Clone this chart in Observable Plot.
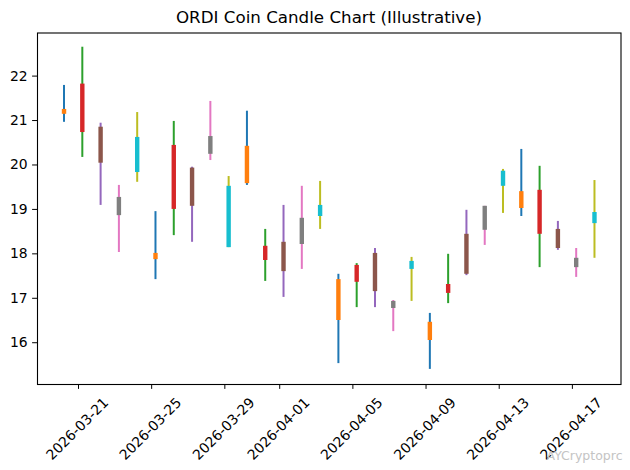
<!DOCTYPE html>
<html>
<head>
<meta charset="utf-8">
<script src="https://cdn.jsdelivr.net/npm/d3@7"></script>
<script src="https://cdn.jsdelivr.net/npm/@observablehq/plot@0.6"></script>
<style>
  html, body { margin: 0; padding: 0; background: #fff; }
  #wrap { width: 630px; height: 470px; position: relative; font-family: "DejaVu Sans", sans-serif; }
  #title { height: 32px; line-height: 35px; font-size: 16.7px; text-align: center; padding-left: 28px; box-sizing: border-box; width: 630px; color: #000; }
</style>
</head>
<body>
<div id="wrap">
  <div id="title">ORDI Coin Candle Chart (Illustrative)</div>
  <div id="chart"></div>
</div>
<script>
const dates = ["2026-03-20","2026-03-21","2026-03-22","2026-03-23","2026-03-24","2026-03-25","2026-03-26","2026-03-27","2026-03-28","2026-03-29",
               "2026-03-30","2026-03-31","2026-04-01","2026-04-02","2026-04-03","2026-04-04","2026-04-05","2026-04-06","2026-04-07","2026-04-08",
               "2026-04-09","2026-04-10","2026-04-11","2026-04-12","2026-04-13","2026-04-14","2026-04-15","2026-04-16","2026-04-17","2026-04-18"];
const candleTime = "T05:00:00Z";
const open  = [21.14,20.73,20.85,19.27,19.83,18.01,19.00,19.93,20.24,19.52,19.58,18.17,18.26,18.21,18.84,17.42,17.36,18.01,16.93,17.65,16.46,17.11,17.54,18.53,19.52,19.40,19.43,18.55,17.90,18.68];
const high  = [21.79,22.65,20.94,19.54,21.18,18.95,20.98,19.95,21.43,19.74,21.21,18.55,19.09,19.52,19.63,17.54,17.78,18.12,16.95,17.92,16.66,17.99,18.98,19.07,19.90,20.35,19.97,18.73,18.12,19.65];
const low   = [20.96,20.17,19.09,18.03,19.61,17.42,18.41,18.26,20.10,18.14,19.54,17.38,17.02,17.65,18.55,15.53,16.79,16.79,16.25,16.93,15.40,16.88,17.51,18.19,18.91,18.84,17.69,18.08,17.47,17.90];
const close = [21.25,21.82,20.04,18.86,20.62,17.87,20.44,19.07,20.64,18.14,20.42,17.85,17.60,18.80,19.09,16.50,17.74,17.15,16.77,17.83,16.05,17.31,18.44,19.07,19.86,19.02,18.44,18.12,17.69,18.93];
const xTicks = ["2026-03-21","2026-03-25","2026-03-29","2026-04-01","2026-04-05","2026-04-09","2026-04-13","2026-04-17"];
const yTicks = [16, 17, 18, 19, 20, 21, 22];
const yRange = [15.06, 22.97];
const tab10 = ["#1f77b4","#ff7f0e","#2ca02c","#d62728","#9467bd","#8c564b","#e377c2","#7f7f7f","#bcbd22","#17becf"];

const data = dates.map((d, i) => ({
  date: new Date(d + candleTime),
  open: open[i], high: high[i], low: low[i], close: close[i],
  wick: tab10[(2 * i) % 10], body: tab10[(2 * i + 1) % 10]
}));
const tickDates = xTicks.map(d => new Date(d + "T00:00:00Z"));

// matplotlib-like 5% margins on x
const [t0, t1] = d3.extent(data, d => +d.date);
const tp = (t1 - t0) * 0.05;

const chart = Plot.plot({
  width: 630,
  height: 438,
  marginLeft: 37,
  marginRight: 9.5,
  marginTop: 0.5,
  marginBottom: 86,
  style: { fontFamily: "DejaVu Sans, sans-serif", fontSize: "13.9px", color: "#000", background: "#fff" },
  x: { type: "utc", domain: [new Date(t0 - tp), new Date(t1 + tp)] },
  y: { domain: yRange },
  color: { type: "identity" },
  marks: [
    Plot.ruleX(data, { x: "date", y1: "low", y2: "high", stroke: "wick", strokeWidth: 2 }),
    Plot.ruleX(data, { x: "date", y1: "open", y2: "close", stroke: "body", strokeWidth: 4.4 }),
    Plot.axisY({ ticks: yTicks, tickSize: 4.9, tickPadding: 5, label: null, fontSize: 13.9, stroke: "#000", fill: "#000" }),
    Plot.axisX({ ticks: tickDates, tickSize: 4.9, tickFormat: () => "", label: null, stroke: "#000" }),
    Plot.text(tickDates, {
      x: d => d, frameAnchor: "bottom", text: d => d3.utcFormat("%Y-%m-%d")(d),
      rotate: -45, textAnchor: "middle", lineAnchor: "middle", dy: 44.5, dx: -1, fontSize: 13.9, fill: "#000"
    }),
    Plot.text(["AYCryptoprc"], {
      frameAnchor: "bottom-right", text: d => d, textAnchor: "end", lineAnchor: "middle",
      dx: 1.5, dy: 71, fontSize: 12.5, fill: "#c4c4c4"
    }),
    Plot.frame({ stroke: "#000", strokeWidth: 1.1 })
  ]
});
document.getElementById("chart").appendChild(chart);
</script>
</body>
</html>
